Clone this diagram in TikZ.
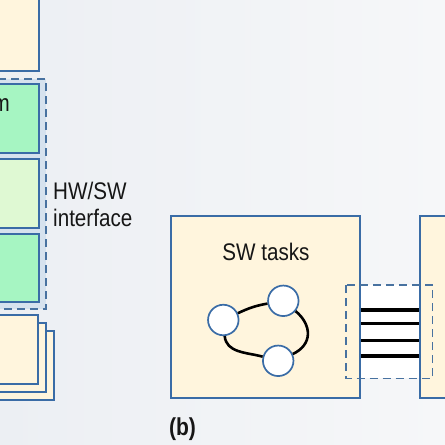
\documentclass[tikz,border=0pt]{standalone}
\usepackage{fontspec}
\setmainfont{Liberation Sans}[FakeStretch=0.86]
\usepackage{xcolor}
\definecolor{bordercolor}{RGB}{58, 108, 166}
\definecolor{dashcolor}{RGB}{72, 114, 160}
\definecolor{creamcolor}{RGB}{255, 245, 221}
\definecolor{greencolor}{RGB}{166, 245, 194}
\definecolor{palegreencolor}{RGB}{223, 249, 211}
\definecolor{ifcolor}{RGB}{214, 226, 238}
\definecolor{inkcolor}{RGB}{22, 22, 22}
\definecolor{bgleft}{RGB}{236, 239, 243}
\definecolor{bgright}{RGB}{246, 247, 249}
\tikzset{
        blk/.style={draw=bordercolor, line width=1.8pt, inner sep=0pt, anchor=north west},
        ifzone/.style={draw=dashcolor, line width=1.7pt, dash pattern=on 8pt off 5pt},
        task/.style={circle, draw=bordercolor, line width=1.7pt, fill=white, minimum size=30.5pt, inner sep=0pt},
        edge/.style={line width=2.6pt, black},
        wire/.style={line width=3.2pt, black},
        lbl/.style={font=\fontsize{24}{26.7}\selectfont, text=inkcolor, inner sep=0pt},
}

\begin{document}
\begin{tikzpicture}[x=1pt, y=1pt]
        \useasboundingbox (0, 0) rectangle (445, -445);
        \clip (0, 0) rectangle (445, -445);
        \shade[left color=bgleft, right color=bgright] (0, 0) rectangle (445, -445);
        % Left column {{{
        \node[blk, fill=creamcolor, minimum width=48pt, minimum height=80pt] (topblk) at (-10, 10) {};
        \node[ifzone, fill=ifcolor, inner sep=0pt, anchor=north west, minimum width=55pt, minimum height=230pt] (hwif) at (-10, -78) {};
        \node[blk, fill=greencolor, minimum width=48pt, minimum height=69pt] (hwa) at (-10, -83) {};
        \node[blk, fill=palegreencolor, minimum width=48pt, minimum height=69pt] (hwb) at (-10, -158) {};
        \node[blk, fill=greencolor, minimum width=48pt, minimum height=68pt] (hwc) at (-10, -233) {};
        \node[lbl, anchor=base east] (hwalbl) at (10, -111) {m};
        \node[lbl, anchor=north west, align=left] (hwswlbl) at (53, -182) {HW/SW\\interface};
        \node[blk, fill=creamcolor, minimum width=63pt, minimum height=69pt] (stkc) at (-10, -330) {};
        \node[blk, fill=creamcolor, minimum width=55pt, minimum height=69pt] (stkb) at (-10, -322) {};
        \node[blk, fill=creamcolor, minimum width=47pt, minimum height=69pt] (stka) at (-10, -314) {};
        % }}}
        % Part (b) {{{
        \node[fill=white, inner sep=0pt, anchor=north west, minimum width=86pt, minimum height=93pt] (buszone) at (346, -285) {};
        \node[blk, fill=creamcolor, minimum width=189pt, minimum height=182pt] (swtasks) at (170, -215) {};
        \node[blk, fill=creamcolor, minimum width=50pt, minimum height=182pt] (hwside) at (419.3, -215) {};
        \draw[ifzone] (buszone.north west) rectangle (buszone.south east);
        \node[lbl, anchor=base] (swlbl) at (266, -260) {SW tasks};
        \node[task] (ta) at (223.3, -320) {};
        \node[task] (tb) at (283.3, -300.8) {};
        \node[task] (tc) at (278.2, -360.8) {};
        \draw[edge] (ta) to[out=25, in=190] (tb);
        \draw[edge] (ta) to[out=-85, in=165] (tc);
        \draw[edge] (tb) to[out=-40, in=25, looseness=1.3] (tc);
        \foreach \y in {310, 323.3, 340.7, 356}
                \draw[wire] (swtasks.east |- 0, -\y) -- (hwside.west |- 0, -\y);
        \node[lbl, font=\fontsize{24.5}{26}\selectfont\bfseries, anchor=base] (sublbl) at (182.5, -435) {(b)};
        % }}}
\end{tikzpicture}
\end{document}
